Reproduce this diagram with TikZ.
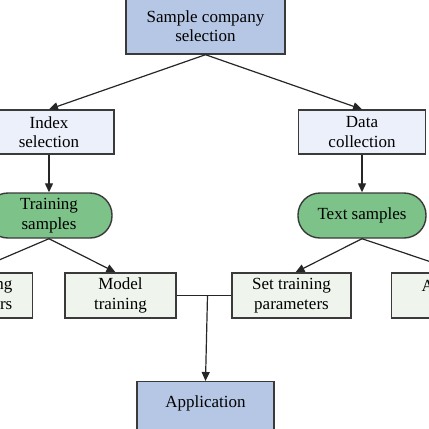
\documentclass[tikz,border=0pt]{standalone}
\usepackage{fontspec}
\setmainfont{Liberation Serif}
\usetikzlibrary{arrows.meta}

\definecolor{boxline}{RGB}{58,58,58}
\definecolor{topblue}{RGB}{182,199,230}
\definecolor{paleblue}{RGB}{235,240,250}
\definecolor{samplegreen}{RGB}{124,194,137}
\definecolor{palegreen}{RGB}{239,245,237}

\tikzset{
  every node/.style={font=\fontsize{17}{19.5}\selectfont, align=center},
  box/.style={draw=boxline, line width=1.4pt, inner sep=2pt},
  mainbox/.style={box, fill=topblue},
  stepbox/.style={box, fill=paleblue, minimum height=44pt},
  samplebox/.style={box, fill=samplegreen, rounded corners=22pt, minimum height=45pt},
  taskbox/.style={box, fill=palegreen, minimum height=45pt},
  link/.style={draw=black!85, line width=1.2pt, -{Triangle[length=9pt,width=8pt]}}
}

\begin{document}
\begin{tikzpicture}[x=1pt,y=-1pt]
\useasboundingbox (0,0) rectangle (429,429);
\clip (0,0) rectangle (429,429);

% top level
\node[mainbox, minimum width=159pt, minimum height=56pt] (company) at (205.5,26) {Sample company\\selection};

% two branches
\node[stepbox, minimum width=130pt] (index) at (49,132) {Index\\selection};
\node[stepbox, minimum width=127pt] (data) at (362,132) {Data\\collection};

\node[samplebox, minimum width=126pt] (train) at (49,215.5) {Training\\samples};
\node[samplebox, minimum width=128pt] (text) at (362,215.5) {Text samples};

% bottom row
\node[taskbox, minimum width=124pt, anchor=east, text width=84pt, inner xsep=20pt, align=right] (param) at (33,295.5) {Setting\\parameters};
\node[taskbox, minimum width=111pt] (model) at (120.5,295.5) {Model\\training};
\node[taskbox, minimum width=119pt] (set) at (291.5,295.5) {Set training\\parameters};
\node[taskbox, minimum width=130pt, anchor=west, text width=80pt, inner xsep=30pt, align=left] (accu) at (391,295.5) {Accuracy\\\hspace*{30pt}test};

\node[mainbox, minimum width=137pt, anchor=north, inner ysep=0pt, text height=26pt, text depth=24pt] (app) at (205.5,381) {Application};

\coordinate (join) at (207.5,295.5);

\draw[link] (company.south) -- (index.north);
\draw[link] (company.south) -- (data.north);
\draw[link] (index.south) -- (train.north);
\draw[link] (data.south) -- (text.north);
\draw[link] (train.south) -- (param.north);
\draw[link] (train.south) -- ([xshift=-5pt]model.north);
\draw[link] (text.south) -- ([xshift=4pt]set.north);
\draw[link] (text.south) -- (accu.north);
\draw[draw=black!85, line width=1.2pt] (model.east) -- (set.west);
\draw[link] (join) -- (app.north);
\end{tikzpicture}
\end{document}
